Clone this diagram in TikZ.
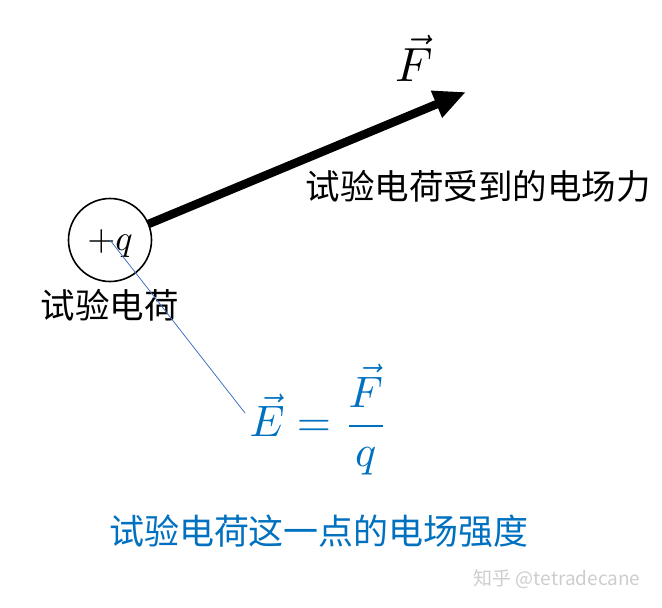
\documentclass[tikz,border=0pt]{standalone}
\usepackage{fontspec}
\usepackage{amsmath}
\usepackage{xcolor}
\usepackage{tikz}
\usetikzlibrary{arrows.meta, positioning, calc}
\newfontfamily\cjk{Noto Sans CJK SC}
\definecolor{fieldblue}{RGB}{0,112,192}
\definecolor{leaderblue}{RGB}{68,114,196}
\definecolor{markgray}{RGB}{205,205,205}
\tikzset{
  charge/.style={circle, draw=black, line width=1.6pt, minimum size=83pt, inner sep=0pt},
  forcearrow/.style={-{Triangle[length=32pt, width=27pt]}, line width=8.5pt, shorten <=-1pt},
  leader/.style={draw=leaderblue, line width=0.8pt},
  cjklabel/.style={font=\cjk\fontsize{34.5}{38}\selectfont, inner sep=0pt},
  mathlabel/.style={inner sep=0pt, transform shape=false}
}

\begin{document}
\begin{tikzpicture}[x=1pt, y=-1pt]
  \useasboundingbox (0,0) rectangle (662,608);

  % Test charge
  \node[charge] (q) at (110,240) {};
  \node[mathlabel, scale=3.6] (qtext) at (110,243) {$+q$};
  \node[cjklabel] (qlabel) at (110,305) {试验电荷};

  % Electric force on the charge
  \coordinate (tip) at (466,92);
  \draw[forcearrow] (q) -- (tip);
  \node[mathlabel, scale=4.8] (Fvec) at (414,58) {$\vec{F}$};
  \node[cjklabel] (Flabel) at (478,186) {试验电荷受到的电场力};

  % Field strength at that point
  \node[mathlabel, text=fieldblue, scale=4.4] (Efield) at (319,420) {$\vec{E}=\dfrac{\vec{F}}{q}$};
  \coordinate (lead) at (245,413);
  \draw[leader] (q.center) -- (lead);
  \node[cjklabel, text=fieldblue, font=\cjk\fontsize{35}{38}\selectfont] (Elabel) at (319,531) {试验电荷这一点的电场强度};

  % Watermark
  \node[inner sep=0pt, text=markgray, font=\cjk\fontsize{19}{22}\selectfont] (mark) at (557,579) {知乎 @tetradecane};
\end{tikzpicture}
\end{document}
